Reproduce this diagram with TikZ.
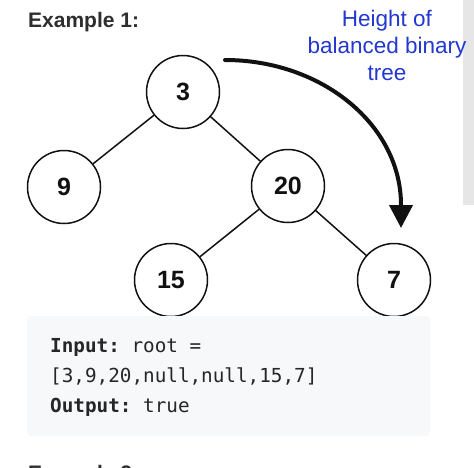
\documentclass[tikz,border=0pt]{standalone}
\usepackage{fontspec}
\setmainfont{Liberation Sans}
\setmonofont{DejaVu Sans Mono}
\usetikzlibrary{arrows.meta, positioning}
\definecolor{ink}{HTML}{111111}
\definecolor{headc}{HTML}{2E2E2E}
\definecolor{noteblue}{HTML}{2338D0}
\definecolor{codebg}{HTML}{F6F8FA}
\definecolor{codeink}{HTML}{262626}
\definecolor{barg}{HTML}{E6E6E6}
\tikzset{el/.style={line cap=round, line join=round}}

\begin{document}
\begin{tikzpicture}[el, x=1pt, y=-1pt,
     nd/.style={circle, draw=ink, line width=1.5pt, minimum size=73pt, inner sep=0pt,
        fill=white, font=\fontsize{25}{28}\selectfont\bfseries, text=ink},
     ln/.style={draw=ink, line width=1.5pt},
     ar/.style={-{Triangle[length=23pt, width=23pt]}, ink, line width=4pt},
     code/.style={font=\fontsize{19.3}{23}\selectfont\ttfamily, text=codeink,
        anchor=base west, inner sep=0pt}]
     \useasboundingbox (0,0) rectangle (474,467);
     \fill[white] (0,0) rectangle (474,467);
     \fill[barg] (463,0) rectangle (474,205);
     \node[anchor=base west, inner sep=0pt, text=headc,
        font=\fontsize{21}{24}\selectfont\bfseries] (ex1) at (28,27) {Example 1:};
     \node[align=center, anchor=north, inner sep=0pt, text=noteblue,
        font=\fontsize{22.5}{27}\selectfont] (note) at (387,10) {Height of\\balanced binary\\tree};
     % tree
     \node[nd] (n3) at (183,92) {3};
     \node[nd] (n9) at (64,187) {9};
     \node[nd] (n20) at (288,186) {20};
     \node[nd] (n15) at (171,280) {15};
     \node[nd] (n7) at (394,280) {7};
     \draw[ln] (n3)--(n9);\draw[ln] (n3)--(n20);\draw[ln] (n20)--(n15);\draw[ln] (n20)--(n7);
     % height arrow
     \coordinate (as) at (225,60);
     \coordinate (ae) at (401,228);
     \draw[ar] (as) .. controls (322,60) and (401,125) .. (401,205) -- (ae);
     % code block
     \fill[codebg, rounded corners=4pt] (27,316) rectangle (430,436);
     \node[code] (in) at (50,352) {\textbf{Input:} root =};
     \node[code] (arr) at (50,382) {[3,9,20,null,null,15,7]};
     \node[code] (out) at (50,412) {\textbf{Output:} true};
     \node[anchor=base west, inner sep=0pt, text=headc,
        font=\fontsize{21}{24}\selectfont\bfseries] (ex2) at (28,480) {Example 2:};
  \end{tikzpicture}
\end{document}
